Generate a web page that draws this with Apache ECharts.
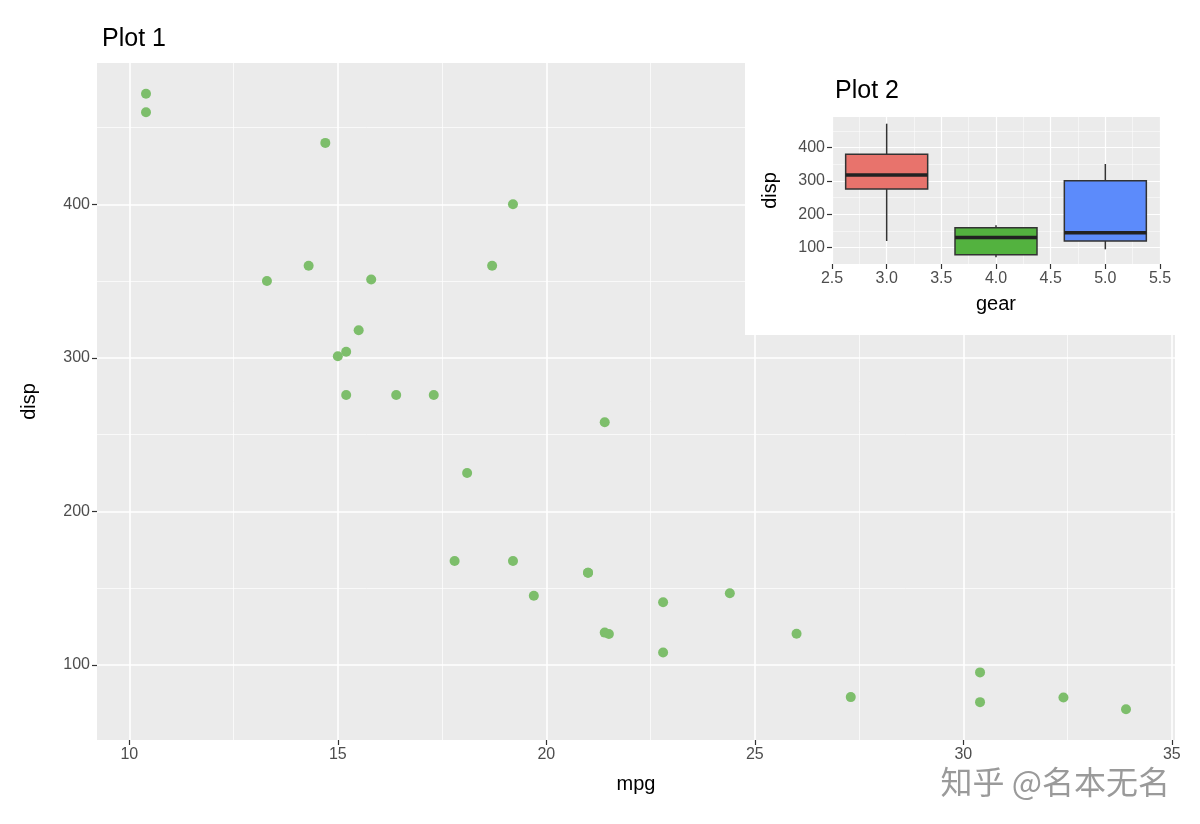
<!DOCTYPE html>
<html><head><meta charset="utf-8">
<script src="https://cdn.jsdelivr.net/npm/echarts@6/dist/echarts.min.js"></script>
<style>html,body{margin:0;background:#fff}#main{width:1200px;height:824px}</style>
</head><body><div id="main"></div>
<script>
// mtcars: mpg vs disp
var mpg  = [21.0,21.0,22.8,21.4,18.7,18.1,14.3,24.4,22.8,19.2,17.8,16.4,17.3,15.2,10.4,10.4,14.7,32.4,30.4,33.9,21.5,15.5,15.2,13.3,19.2,27.3,26.0,30.4,15.8,19.7,15.0,21.4];
var disp = [160,160,108,258,360,225,360,146.7,140.8,167.6,167.6,275.8,275.8,275.8,472,460,440,78.7,75.7,71.1,120.1,318,304,350,400,79,120.3,95.1,351,145,301,121];
// gear boxplot stats: [min, q1, median, q3, max]
var gears = [3, 4, 5];
var boxStats = [[120.1,275.8,318,380,472],[71.1,78.8,130.9,160,167.6],[95.1,120.3,145,301,351]];
var boxColors = ['#E8736C', '#53B23F', '#5C8BFB'];
var xTicks1 = [10,15,20,25,30,35], xMinor1 = [12.5,17.5,22.5,27.5,32.5];
var yTicks1 = [100,200,300,400], yMinor1 = [150,250,350,450];
var xTicks2 = [2.5,3.0,3.5,4.0,4.5,5.0,5.5], xMinor2 = [2.75,3.25,3.75,4.25,4.75,5.25];
var yTicks2 = [100,200,300,400], yMinor2 = [150,250,350,450];

var font = 'Liberation Sans';
function gridLines(xs, ys, xm, ym, w, wm, z) {
  var d = [];
  xm.forEach(function (v) { d.push({xAxis: v, lineStyle: {width: wm}}); });
  ym.forEach(function (v) { d.push({yAxis: v, lineStyle: {width: wm}}); });
  xs.forEach(function (v) { d.push({xAxis: v, lineStyle: {width: w}}); });
  ys.forEach(function (v) { d.push({yAxis: v, lineStyle: {width: w}}); });
  return {silent: true, symbol: 'none', label: {show: false}, animation: false, z: z,
    lineStyle: {color: '#fff', type: 'solid'}, emphasis: {disabled: true}, data: d};
}
function axisX(idx, min, max, ticks, dec, name, nameGap, z) {
  return {type: 'value', gridIndex: idx, min: min, max: max, name: name, nameLocation: 'middle', nameGap: nameGap, z: z,
    nameTextStyle: {color: '#000', fontSize: 20, fontFamily: font},
    axisLine: {show: false}, splitLine: {show: false},
    axisTick: {show: true, customValues: ticks, length: 5, lineStyle: {color: '#333', width: 1.2}},
    axisLabel: {customValues: ticks, color: '#4d4d4d', fontSize: 16, fontFamily: font, margin: 7,
      formatter: function (v) { return dec ? v.toFixed(1) : String(v); }}};
}
function axisY(idx, min, max, ticks, name, nameGap, z) {
  return {type: 'value', gridIndex: idx, min: min, max: max, name: name, nameLocation: 'middle', nameGap: nameGap, z: z,
    nameTextStyle: {color: '#000', fontSize: 20, fontFamily: font},
    axisLine: {show: false}, splitLine: {show: false},
    axisTick: {show: true, customValues: ticks, length: 5, lineStyle: {color: '#333', width: 1.2}},
    axisLabel: {customValues: ticks, color: '#4d4d4d', fontSize: 16, fontFamily: font, margin: 7}};
}

var chart = echarts.init(document.getElementById('main'));
chart.setOption({
  backgroundColor: '#fff',
  animation: false,
  title: [
    {text: 'Plot 1', left: 97, top: 22, textStyle: {fontSize: 25, fontWeight: 'normal', color: '#000', fontFamily: font}},
    {text: 'Plot 2', left: 830, top: 74, textStyle: {fontSize: 25, fontWeight: 'normal', color: '#000', fontFamily: font}, z: 20}
  ],
  graphic: [
    {type: 'rect', shape: {x: 745, y: 58, width: 440, height: 277}, style: {fill: '#fff'}, z: 5},
    {type: 'rect', shape: {x: 832, y: 117, width: 328, height: 147}, style: {fill: '#EBEBEB'}, z: 6},
    {type: 'text', right: 30, bottom: 26, z: 30, style: {text: '知乎 @名本无名', fill: 'rgba(120,120,120,0.75)', fontSize: 32, fontFamily: 'Noto Sans CJK SC'}}
  ],
  grid: [
    {left: 97, top: 63, width: 1078, height: 677, show: true, backgroundColor: '#EBEBEB', borderWidth: 0, z: 0},
    {left: 832, top: 117, width: 328, height: 147, show: false}
  ],
  xAxis: [axisX(0, 9.225, 35.075, xTicks1, false, 'mpg', 34, 2), axisX(1, 2.5, 5.5, xTicks2, true, 'gear', 30, 15)],
  yAxis: [axisY(0, 51.05, 492.05, yTicks1, 'disp', 58, 2), axisY(1, 51.05, 492.05, yTicks2, 'disp', 52, 15)],
  series: [
    {type: 'scatter', xAxisIndex: 0, yAxisIndex: 0, symbolSize: 10, z: 3, itemStyle: {color: '#7DBE6B', opacity: 1},
      data: mpg.map(function (m, i) { return [m, disp[i]]; }),
      markLine: gridLines(xTicks1, yTicks1, xMinor1, yMinor1, 1.6, 0.7, 1)},
    {type: 'scatter', xAxisIndex: 1, yAxisIndex: 1, z: 11, data: [[0, 0]], symbolSize: 0, silent: true,
      markLine: gridLines(xTicks2, yTicks2, xMinor2, yMinor2, 1.2, 0.5, 11)},
    {type: 'custom', xAxisIndex: 1, yAxisIndex: 1, z: 12,
      data: gears.map(function (g, i) { return [g].concat(boxStats[i]); }),
      renderItem: function (params, api) {
        var x = api.value(0), hw = 0.375;
        var p = function (xx, yy) { return api.coord([xx, yy]); };
        var lo = p(x, api.value(1)), q1l = p(x - hw, api.value(2)), q3r = p(x + hw, api.value(4));
        var hi = p(x, api.value(5)), ml = p(x - hw, api.value(3)), mr = p(x + hw, api.value(3));
        var q1c = p(x, api.value(2)), q3c = p(x, api.value(4));
        var ls = {stroke: '#333', lineWidth: 1.5};
        return {type: 'group', children: [
          {type: 'line', shape: {x1: lo[0], y1: lo[1], x2: q1c[0], y2: q1c[1]}, style: ls},
          {type: 'line', shape: {x1: hi[0], y1: hi[1], x2: q3c[0], y2: q3c[1]}, style: ls},
          {type: 'rect', shape: {x: q1l[0], y: q3r[1], width: q3r[0] - q1l[0], height: q1l[1] - q3r[1]},
            style: {fill: boxColors[params.dataIndex], stroke: '#333', lineWidth: 1.5}},
          {type: 'line', shape: {x1: ml[0], y1: ml[1], x2: mr[0], y2: mr[1]}, style: {stroke: '#222', lineWidth: 3.5}}
        ]};
      }}
  ]
});
</script></body></html>
